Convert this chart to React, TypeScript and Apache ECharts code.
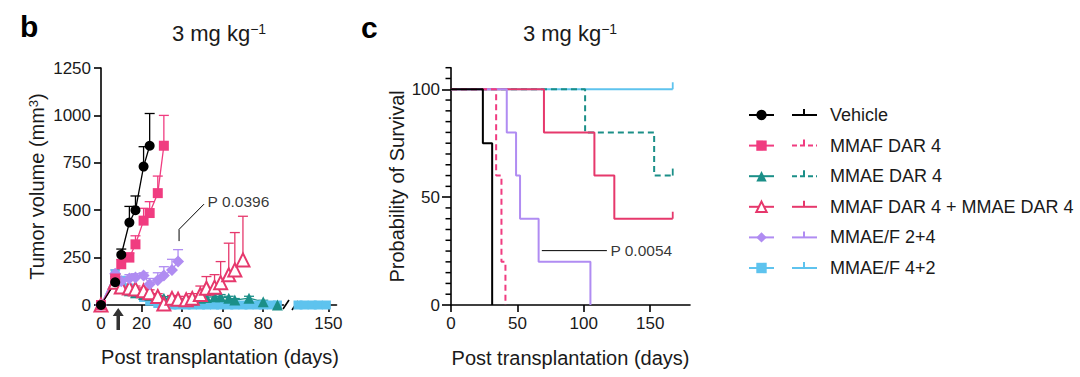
import React, { useEffect, useRef } from 'react';
import * as echarts from 'echarts';

const FONT = '"Liberation Sans", Arial, Helvetica, sans-serif';
const TXT = '#1a1a1a';

// ---------- Groups ----------
const groupNames = ['Vehicle', 'MMAF DAR 4', 'MMAE DAR 4', 'MMAF DAR 4 + MMAE DAR 4', 'MMAE/F 2+4', 'MMAE/F 4+2'];
const groupColors = ['#000000', '#F03C80', '#1B8F88', '#E6386C', '#B08CF2', '#5EC3EE'];
const kmDashed = [false, true, true, false, false, false];

// ---------- Panel b: tumour volume ----------
const vehicleDays = [0, 7, 10, 14, 17, 21, 24];
const vehicleMean = [0, 120, 265, 435, 500, 730, 840];
const vehicleUpper = [0, 160, 295, 520, 575, 835, 1010];

const mmafDays = [0, 7, 10, 14, 17, 21, 24, 28, 31];
const mmafMean = [0, 140, 215, 250, 320, 445, 485, 590, 840];
const mmafUpper = [0, 165, 240, 275, 365, 510, 545, 680, 1000];

const mmaeDays = [0, 7, 10, 14, 17, 21, 24, 28, 31, 35, 38, 42, 45, 49, 52, 56, 59, 63, 66, 73, 80, 87];
const mmaeMean = [0, 130, 95, 75, 65, 55, 50, 40, 35, 30, 25, 22, 25, 36, 40, 44, 44, 36, 26, 36, 17, 0];
const mmaeUpper = [0, 150, 110, 90, 78, 66, 60, 50, 44, 38, 33, 30, 33, 46, 50, 55, 55, 46, 34, 46, 25, 0];

const comboDays = [0, 7, 10, 14, 17, 21, 24, 28, 31, 35, 38, 42, 45, 49, 52, 56, 59, 63, 66, 70];
const comboMean = [0, 120, 95, 90, 85, 75, 65, 45, 5, 35, 30, 28, 35, 55, 88, 94, 118, 159, 185, 238];
const comboUpper = [0, 140, 110, 105, 100, 90, 80, 60, 20, 50, 45, 45, 60, 100, 150, 160, 229, 326, 382, 468];

const mix24Days = [0, 7, 10, 14, 17, 21, 24, 28, 31, 35, 38];
const mix24Mean = [0, 165, 125, 140, 145, 155, 110, 130, 155, 185, 230];
const mix24Upper = [0, 185, 150, 160, 165, 170, 140, 170, 202, 241, 292];

const mix42Days = [0, 7, 10, 14, 17, 21, 24, 28, 31, 35, 38, 42, 45, 49, 52, 56, 59, 63, 66, 70, 73, 77, 80, 84, 87];
const mix42Mean = [0, 165, 130, 90, 60, 40, 20, 8, 3, 0, 0, 0, 0, 0, 0, 0, 0, 0, 0, 0, 0, 0, 0, 0, 0];
const mix42LateDays = [135, 138, 142, 145, 149];
const mix42LateMean = [0, 0, 0, 0, 0];

const treatmentDay = [8.5];
const pB = { text: 'P 0.0396', path: [[38.5, 337], [38.5, 399], [50.8, 532]] };

const bTicksEarly = [0, 20, 40, 60, 80];
const bTicksLate = [150];

// ---------- Panel c: survival ----------
const kmDays = [
  [0, 24, 31],
  [0, 34, 38, 41],
  [0, 101, 153, 167],
  [0, 70, 108, 123, 167],
  [0, 42, 49, 52, 66, 105],
  [0, 167],
];
const kmSurv = [
  [100, 75, 0],
  [100, 60, 20, 0],
  [100, 80, 60, 60],
  [100, 80, 60, 40, 40],
  [100, 80, 60, 40, 20, 0],
  [100, 100],
];
const kmCensoredEnd = [false, false, true, true, false, true];
const pC = { text: 'P 0.0054', path: [[68.4, 25.2], [117.4, 25.2]] };
const cXTicks = [0, 50, 100, 150];
const cYTicks = [0, 50, 100];
const cYMinorTicks = [5, 10, 15, 20, 25, 30, 35, 40, 45, 55, 60, 65, 70, 75, 80, 85, 90, 95, 105, 110];

// ---------- helpers ----------
const axisLine = { show: true, lineStyle: { color: '#000', width: 1.6 } };
const tickStyle = { lineStyle: { color: '#000', width: 1.6 } };
const labelStyle = { fontSize: 17, fontFamily: FONT, color: TXT, formatter: (v: number) => String(v) };

function errSeries(name: string, days: number[], mean: number[], upper: number[], color: string) {
  return {
    type: 'custom',
    name,
    xAxisIndex: 0,
    yAxisIndex: 0,
    silent: true,
    clip: false,
    encode: { x: 0, y: [1, 2] },
    data: days.map((d, i) => [d, mean[i], upper[i]]),
    renderItem: (_p: any, api: any) => {
      const x = api.value(0);
      const m = api.value(1);
      const u = api.value(2);
      if (!(u > m)) return { type: 'group', children: [] };
      const p0 = api.coord([x, m]);
      const p1 = api.coord([x, u]);
      const st = { stroke: color, lineWidth: 1.3 };
      return {
        type: 'group',
        children: [
          { type: 'line', shape: { x1: p0[0], y1: p0[1], x2: p1[0], y2: p1[1] }, style: st },
          { type: 'line', shape: { x1: p1[0] - 5, y1: p1[1], x2: p1[0] + 5, y2: p1[1] }, style: st },
        ],
      };
    },
  };
}

function lineB(name: string, days: number[], vals: number[], color: string, symbol: string, size: number, extra: any = {}) {
  return {
    type: 'line',
    name,
    xAxisIndex: 0,
    yAxisIndex: 0,
    data: days.map((d, i) => [d, vals[i]]),
    symbol,
    symbolSize: size,
    showSymbol: true,
    showAllSymbol: true,
    clip: false,
    lineStyle: { color, width: 1.3 },
    itemStyle: { color },
    ...extra,
  };
}

function kmSeries(i: number) {
  const color = groupColors[i];
  const days = kmDays[i];
  const last = days.length - 1;
  return {
    type: 'line',
    name: 'KM ' + groupNames[i],
    xAxisIndex: 2,
    yAxisIndex: 2,
    step: 'end',
    symbol: 'rect',
    symbolSize: [1.8, 7],
    symbolOffset: [0, -3.5],
    showSymbol: true,
    showAllSymbol: true,
    clip: false,
    lineStyle: { color, width: 2, type: kmDashed[i] ? [6, 4] : 'solid' },
    itemStyle: { color },
    data: days.map((d, j) => (j === last && kmCensoredEnd[i] ? [d, kmSurv[i][j]] : { value: [d, kmSurv[i][j]], symbol: 'none' })),
  };
}

function labelPoint(name: string, xi: number, yi: number, pt: number[], text: string, offset: number[]) {
  return {
    type: 'scatter',
    name,
    xAxisIndex: xi,
    yAxisIndex: yi,
    symbol: 'circle',
    symbolSize: 1,
    itemStyle: { color: 'rgba(0,0,0,0)' },
    clip: false,
    silent: true,
    data: [pt],
    label: {
      show: true,
      position: 'right',
      distance: 3,
      offset,
      formatter: text,
      fontSize: 15.5,
      fontFamily: FONT,
      color: '#000',
      textBorderWidth: 0,
    },
  };
}

export default function App() {
  const ref = useRef<HTMLDivElement>(null);

  useEffect(() => {
    const chart = echarts.init(ref.current!, null, { renderer: 'svg' });

    const legendTop = 106;
    const rowH = 30.6;
    const legendGraphics: any[] = [];
    groupNames.forEach((_, i) => {
      const y = legendTop + 9 + i * rowH;
      legendGraphics.push({
        type: 'line',
        shape: { x1: 792, y1: y, x2: 817, y2: y },
        style: { stroke: groupColors[i], lineWidth: 2, lineDash: kmDashed[i] ? [5, 3] : null },
      });
      legendGraphics.push({
        type: 'line',
        shape: { x1: 804, y1: y - 6, x2: 804, y2: y },
        style: { stroke: groupColors[i], lineWidth: 2 },
      });
    });

    const staticGraphics: any[] = [
      { type: 'text', x: 20, y: 26, style: { text: 'b', font: 'bold 30px ' + FONT, fill: '#000', verticalAlign: 'middle' } },
      { type: 'text', x: 361, y: 27, style: { text: 'c', font: 'bold 30px ' + FONT, fill: '#000', verticalAlign: 'middle' } },
      {
        type: 'text', x: 219, y: 33,
        style: {
          text: '{m|3 mg kg}{s|\u22121}', align: 'center', verticalAlign: 'middle',
          rich: {
            m: { fontSize: 22, fontFamily: FONT, fill: TXT },
            s: { fontSize: 14, fontFamily: FONT, fill: TXT, verticalAlign: 'top' },
          },
        },
      },
      {
        type: 'text', x: 570, y: 33,
        style: {
          text: '{m|3 mg kg}{s|\u22121}', align: 'center', verticalAlign: 'middle',
          rich: {
            m: { fontSize: 22, fontFamily: FONT, fill: TXT },
            s: { fontSize: 14, fontFamily: FONT, fill: TXT, verticalAlign: 'top' },
          },
        },
      },
      {
        type: 'text', x: 220, y: 357,
        style: { text: 'Post transplantation (days)', fontSize: 20, fontFamily: FONT, fill: TXT, align: 'center', verticalAlign: 'middle' },
      },
      { type: 'line', shape: { x1: 283, y1: 309, x2: 289, y2: 300 }, style: { stroke: '#000', lineWidth: 1.6 } },
      { type: 'line', shape: { x1: 292, y1: 310, x2: 298, y2: 301 }, style: { stroke: '#000', lineWidth: 1.6 } },
      ...legendGraphics,
    ];

    const option: any = {
      animation: false,
      backgroundColor: '#ffffff',
      textStyle: { fontFamily: FONT },
      grid: [
        { left: 101, top: 68, width: 182.5, height: 237 },
        { left: 298, top: 68, width: 38.5, height: 237 },
        { left: 451, top: 67.7, width: 239, height: 237.3 },
      ],
      xAxis: [
        {
          type: 'value', gridIndex: 0, min: 0, max: 90,
          axisLine, axisTick: { length: 7, customValues: bTicksEarly, ...tickStyle },
          axisLabel: { ...labelStyle, margin: 10, customValues: bTicksEarly },
          splitLine: { show: false },
        },
        {
          type: 'value', gridIndex: 1, min: 135, max: 154,
          axisLine, axisTick: { length: 7, customValues: bTicksLate, ...tickStyle },
          axisLabel: { ...labelStyle, margin: 10, customValues: bTicksLate },
          splitLine: { show: false },
        },
        {
          type: 'value', gridIndex: 2, min: 0, max: 180,
          axisLine, axisTick: { length: 7, customValues: cXTicks, ...tickStyle },
          axisLabel: { ...labelStyle, margin: 10, customValues: cXTicks },
          splitLine: { show: false },
          name: 'Post transplantation (days)',
          nameLocation: 'middle',
          nameGap: 43,
          nameTextStyle: { fontSize: 20, fontFamily: FONT, color: TXT },
        },
      ],
      yAxis: [
        {
          type: 'value', gridIndex: 0, min: 0, max: 1250, interval: 250, position: 'left',
          axisLine, axisTick: { length: 7, ...tickStyle },
          axisLabel: { ...labelStyle, margin: 10 },
          splitLine: { show: false },
          name: 'Tumor volume (mm{sup|3})',
          nameLocation: 'middle',
          nameGap: 54,
          nameTextStyle: {
            fontSize: 20, fontFamily: FONT, color: TXT,
            rich: { sup: { fontSize: 13, fontFamily: FONT, color: TXT, verticalAlign: 'top' } },
          },
        },
        { type: 'value', gridIndex: 1, min: 0, max: 1250, show: false, splitLine: { show: false } },
        {
          type: 'value', gridIndex: 2, min: 0, max: 110, position: 'left',
          axisLine, axisTick: { length: 9, customValues: cYTicks, ...tickStyle },
          axisLabel: { ...labelStyle, margin: 11, customValues: cYTicks },
          splitLine: { show: false },
          name: 'Probability of Survival',
          nameLocation: 'middle',
          nameGap: 44,
          nameTextStyle: { fontSize: 20, fontFamily: FONT, color: TXT },
        },
      ],
      legend: {
        data: groupNames,
        orient: 'vertical',
        left: 748,
        top: legendTop,
        padding: 0,
        itemWidth: 25,
        itemHeight: 13,
        itemGap: rowH - 18,
        selectedMode: false,
        lineStyle: { width: 2 },
        textStyle: { fontSize: 18, fontFamily: FONT, color: TXT, lineHeight: 18, padding: [0, 0, 0, 51] },
      },
      graphic: staticGraphics,
      series: [
        // panel b
        lineB(groupNames[5], mix42Days, mix42Mean, groupColors[5], 'rect', 9),
        {
          ...lineB(groupNames[5] + ' late', mix42LateDays, mix42LateMean, groupColors[5], 'rect', 9),
          xAxisIndex: 1, yAxisIndex: 1,
        },
        errSeries('err mmae', mmaeDays, mmaeMean, mmaeUpper, groupColors[2]),
        lineB(groupNames[2], mmaeDays, mmaeMean, groupColors[2], 'triangle', 11),
        errSeries('err combo', comboDays, comboMean, comboUpper, groupColors[3]),
        lineB(groupNames[3], comboDays, comboMean, groupColors[3], 'emptyTriangle', 13, {
          itemStyle: { color: groupColors[3], borderColor: groupColors[3], borderWidth: 2 },
        }),
        errSeries('err mix24', mix24Days, mix24Mean, mix24Upper, groupColors[4]),
        lineB(groupNames[4], mix24Days, mix24Mean, groupColors[4], 'diamond', 12),
        errSeries('err mmaf', mmafDays, mmafMean, mmafUpper, groupColors[1]),
        lineB(groupNames[1], mmafDays, mmafMean, groupColors[1], 'rect', 10),
        errSeries('err vehicle', vehicleDays, vehicleMean, vehicleUpper, groupColors[0]),
        lineB(groupNames[0], vehicleDays, vehicleMean, groupColors[0], 'circle', 10),
        {
          type: 'line', name: 'p b line', xAxisIndex: 0, yAxisIndex: 0, symbol: 'none', silent: true,
          lineStyle: { color: '#000', width: 1 }, data: pB.path,
        },
        labelPoint('p b label', 0, 0, pB.path[pB.path.length - 1], pB.text, [0, -3]),
        {
          type: 'scatter', name: 'treatment', xAxisIndex: 0, yAxisIndex: 0, clip: false, silent: true,
          symbol: 'path://M5,0 L10,8 L6.6,8 L6.6,22 L3.4,22 L3.4,8 L0,8 Z',
          symbolSize: [11, 22], symbolOffset: [0, 14], symbolKeepAspect: false,
          itemStyle: { color: '#000' },
          data: treatmentDay.map((d) => [d, 0]),
        },
        // panel c (drawn bottom to top)
        kmSeries(5),
        kmSeries(2),
        kmSeries(3),
        kmSeries(4),
        kmSeries(1),
        kmSeries(0),
        {
          type: 'line', name: 'p c line', xAxisIndex: 2, yAxisIndex: 2, symbol: 'none', silent: true,
          lineStyle: { color: '#000', width: 1 }, data: pC.path,
        },
        labelPoint('p c label', 2, 2, pC.path[pC.path.length - 1], pC.text, [0, 0]),
      ],
    };

    chart.setOption(option);

    // Minor ticks of the survival axis, positioned through the axis scale.
    const minorTicks: any[] = [];
    cYMinorTicks.forEach((v) => {
      const p = chart.convertToPixel({ xAxisIndex: 2, yAxisIndex: 2 } as any, [0, v]) as number[];
      if (p && isFinite(p[0]) && isFinite(p[1])) {
        minorTicks.push({
          type: 'line',
          z: 100,
          shape: { x1: p[0] - 5.5, y1: p[1], x2: p[0], y2: p[1] },
          style: { stroke: '#000', lineWidth: 1.5 },
        });
      }
    });
    chart.setOption({ graphic: [...staticGraphics, ...minorTicks] }, { replaceMerge: ['graphic'] } as any);

    return () => chart.dispose();
  }, []);

  return (
    <div
      ref={ref}
      style={{ position: 'fixed', left: 0, top: 0, width: 1080, height: 377, background: '#fff' }}
    />
  );
}
